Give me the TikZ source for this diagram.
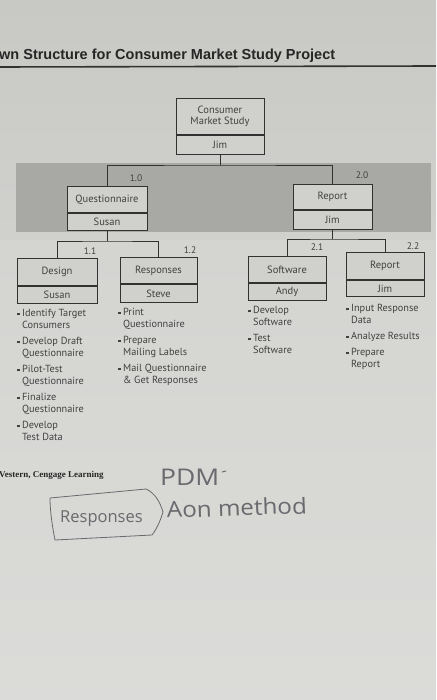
\documentclass[tikz,border=0pt]{standalone}
\usepackage{fontspec}
\setmainfont{PT Sans}
\newfontfamily\titlefont{Liberation Sans}
\newfontfamily\footfont{Liberation Serif}
\newfontfamily\handfont{Open Sans}
\definecolor{paperA}{RGB}{200,200,197}
\definecolor{paperB}{RGB}{216,216,213}
\definecolor{paperC}{RGB}{224,224,222}
\definecolor{band}{RGB}{168,168,165}
\definecolor{boxfill}{RGB}{208,208,205}
\definecolor{ink}{RGB}{50,50,50}
\definecolor{txt}{RGB}{65,65,65}
\definecolor{pen}{RGB}{105,105,110}
\tikzset{
  boxtop/.style={draw=ink, line width=0.9pt, fill=boxfill, inner sep=1pt,
    align=center, font=\fontsize{10.5}{11.5}\selectfont, text=txt, anchor=north},
  boxbot/.style={draw=ink, line width=0.9pt, fill=boxfill, inner sep=1pt,
    font=\fontsize{10.5}{11.5}\selectfont, text=txt, anchor=north},
  conn/.style={draw=ink, line width=0.9pt},
  num/.style={font=\fontsize{9.5}{10}\selectfont, text=txt, inner sep=0pt},
  blist/.style={font=\fontsize{10.3}{12}\selectfont, text=txt, inner sep=0pt,
    anchor=north west, align=left},
  hand/.style={text=pen, inner sep=0pt, anchor=base west}
}
\newcommand{\bt}{\raisebox{0.25ex}{\rule{2.4pt}{2.4pt}}}
\begin{document}
\begin{tikzpicture}[x=1pt,y=-1pt]
\useasboundingbox (0,0) rectangle (436,700);
% paper
\shade[top color=paperA, bottom color=paperC] (0,0) rectangle (436,700);
\fill[paperB, opacity=0.5] (0,240) rectangle (436,700);
% title
\node[anchor=base west, inner sep=0pt, font=\titlefont\bfseries\fontsize{14.5}{16}\selectfont, text=black!85] (title) at (-1,60) {wn Structure for Consumer Market Study Project};
\draw[ink, line width=1.6pt] (0,67) -- (436,66);
% band
\fill[band] (16,163) rectangle (431,232);
% top box
\node[boxtop, minimum width=88pt, minimum height=36pt] (cms) at (220,98) {Consumer\\Market Study};
\node[boxbot, minimum width=88pt, minimum height=19pt] (cmsP) at (cms.south) {Jim};
% level 1
\node[boxtop, minimum width=80pt, minimum height=26pt] (q) at (107,186) {Questionnaire};
\node[boxbot, minimum width=80pt, minimum height=17pt] (qP) at (q.south) {Susan};
\node[boxtop, minimum width=79pt, minimum height=25pt] (r) at (332.5,184) {Report};
\node[boxbot, minimum width=79pt, minimum height=19pt] (rP) at (r.south) {Jim};
% level 2
\node[boxtop, minimum width=80pt, minimum height=27pt] (d) at (57,258) {Design};
\node[boxbot, minimum width=80pt, minimum height=17pt] (dP) at (d.south) {Susan};
\node[boxtop, minimum width=77pt, minimum height=26pt] (resp) at (158.5,257) {Responses};
\node[boxbot, minimum width=77pt, minimum height=18pt] (respP) at (resp.south) {Steve};
\node[boxtop, minimum width=78pt, minimum height=26pt] (sw) at (287,256) {Software};
\node[boxbot, minimum width=78pt, minimum height=17pt] (swP) at (sw.south) {Andy};
\node[boxtop, minimum width=78pt, minimum height=27pt] (rep) at (385,252) {Report};
\node[boxbot, minimum width=78pt, minimum height=16pt] (repP) at (rep.south) {Jim};
% connectors
\coordinate (j0) at (220,165);
\coordinate (j1) at (107,241);
\coordinate (j2) at (332.5,239);
\draw[conn] (cmsP.south) -- (j0);
\draw[conn] (q.north) |- (j0) -| (r.north);
\draw[conn] (qP.south) -- (j1);
\draw[conn] (d.north) |- (j1) -| (resp.north);
\draw[conn] (rP.south) -- (j2);
\draw[conn] (sw.north) |- (j2) -| (rep.north);
% numbers
\node[num] (n10) at (136,178) {1.0};
\node[num] (n20) at (362,175) {2.0};
\node[num] (n11) at (90,251) {1.1};
\node[num] (n12) at (190,250) {1.2};
\node[num] (n21) at (317,247) {2.1};
\node[num] (n22) at (413,246) {2.2};
% bullet lists
\node[blist] (l1) at (17,308) {\begin{tabular}{@{}l@{\hspace{2.5pt}}l@{}}
\bt & Identify Target\\ & Consumers\\[4pt]
\bt & Develop Draft\\ & Questionnaire\\[4pt]
\bt & Pilot-Test\\ & Questionnaire\\[4pt]
\bt & Finalize\\ & Questionnaire\\[4pt]
\bt & Develop\\ & Test Data
\end{tabular}};
\node[blist] (l2) at (118,307) {\begin{tabular}{@{}l@{\hspace{2.5pt}}l@{}}
\bt & Print\\ & Questionnaire\\[4pt]
\bt & Prepare\\ & Mailing Labels\\[4pt]
\bt & Mail Questionnaire\\ & \& Get Responses
\end{tabular}};
\node[blist] (l3) at (248,305) {\begin{tabular}{@{}l@{\hspace{2.5pt}}l@{}}
\bt & Develop\\ & Software\\[4pt]
\bt & Test\\ & Software
\end{tabular}};
\node[blist] (l4) at (346,303) {\begin{tabular}{@{}l@{\hspace{2.5pt}}l@{}}
\bt & Input Response\\ & Data\\[4pt]
\bt & Analyze Results\\[4pt]
\bt & Prepare\\ & Report
\end{tabular}};
% footer
\node[anchor=base west, inner sep=0pt, font=\footfont\bfseries\fontsize{9}{10}\selectfont, text=black!85] (foot) at (-1,477) {Vestern, Cengage Learning};
% handwriting
\node[hand, font=\handfont\fontsize{23}{23}\selectfont, xscale=1.15] (pdm) at (160,485) {PDM};
\draw[pen, line width=0.9pt, line cap=round] (222,472) -- (226,471);
\node[hand, font=\handfont\fontsize{16.5}{17}\selectfont] (resph) at (60,522) {Responses};
\draw[pen, line width=0.8pt, line join=round] (50,498) -- (146,489) .. controls (155,493) and (160,502) .. (163,512) .. controls (160,522) and (156,530) .. (152,535) -- (55,540) .. controls (52,525) and (50,510) .. cycle;
\node[hand, font=\handfont\fontsize{22}{22}\selectfont, xscale=1.1, rotate=2] (aon) at (167,518) {Aon method};
\end{tikzpicture}
\end{document}
